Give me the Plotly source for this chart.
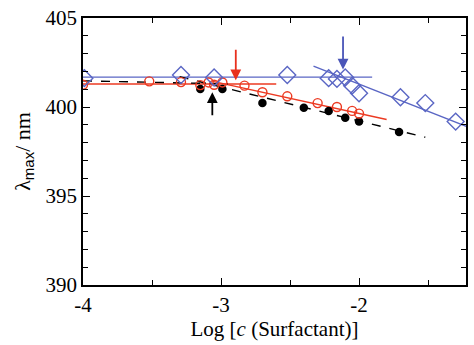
import plotly.graph_objects as go

# Data
blue_x = [-3.99, -3.29, -3.05, -2.52, -2.22, -2.16, -2.10, -2.05, -2.00, -1.70, -1.52, -1.30]
blue_y = [401.62, 401.80, 401.66, 401.80, 401.62, 401.58, 401.66, 401.20, 400.77, 400.55, 400.22, 399.18]
red_x = [-4.00, -3.52, -3.29, -3.15, -3.09, -3.05, -2.99, -2.83, -2.70, -2.52, -2.30, -2.16, -2.05, -2.00]
red_y = [401.25, 401.44, 401.40, 401.23, 401.38, 401.25, 401.38, 401.20, 400.83, 400.60, 400.22, 400.00, 399.78, 399.63]
black_x = [-3.15, -2.99, -2.70, -2.40, -2.22, -2.10, -2.00, -1.71]
black_y = [401.01, 401.01, 400.22, 399.96, 399.78, 399.40, 399.18, 398.59]

# Fit lines (endpoints)
blue_h_x = [-4.0, -1.905]; blue_h_y = [401.68, 401.68]
blue_s_x = [-2.33, -1.22]; blue_s_y = [402.3, 398.9]
red_h_x = [-4.0, -2.60]; red_h_y = [401.29, 401.29]
red_s_x = [-3.06, -1.80]; red_s_y = [401.44, 399.30]
black_h_x = [-4.0, -2.95]; black_h_y = [401.47, 401.30]
black_s_x = [-3.30, -1.52]; black_s_y = [401.70, 398.30]

# Arrows: x, tail y, tip y
arrows = [(-2.893, 403.3, 401.5, "#e8301e"), (-2.116, 404.05, 402.1, "#4a55b8"), (-3.063, 399.45, 400.83, "black")]

BLUE = "#5a66c4"
RED = "#ec3a22"

fig = go.Figure()
fig.add_trace(go.Scatter(x=blue_h_x, y=blue_h_y, mode="lines", line=dict(color=BLUE, width=1.4)))
fig.add_trace(go.Scatter(x=blue_s_x, y=blue_s_y, mode="lines", line=dict(color=BLUE, width=1.4)))
fig.add_trace(go.Scatter(x=red_h_x, y=red_h_y, mode="lines", line=dict(color=RED, width=1.4)))
fig.add_trace(go.Scatter(x=red_s_x, y=red_s_y, mode="lines", line=dict(color=RED, width=1.4)))
fig.add_trace(go.Scatter(x=black_h_x, y=black_h_y, mode="lines", line=dict(color="black", width=1.4, dash="dash")))
fig.add_trace(go.Scatter(x=black_s_x, y=black_s_y, mode="lines", line=dict(color="black", width=1.4, dash="dash")))
fig.add_trace(go.Scatter(x=black_x, y=black_y, mode="markers",
                         marker=dict(symbol="circle", size=8.5, color="black")))
fig.add_trace(go.Scatter(x=red_x, y=red_y, mode="markers",
                         marker=dict(symbol="circle-open", size=9, color=RED, line=dict(width=1.4))))
fig.add_trace(go.Scatter(x=blue_x, y=blue_y, mode="markers",
                         marker=dict(symbol="diamond-open", size=13, color=BLUE, line=dict(width=1.4))))

for x, y0, y1, c in arrows:
    fig.add_annotation(x=x, y=y1, ax=x, ay=y0, xref="x", yref="y", axref="x", ayref="y",
                       showarrow=True, arrowhead=2, arrowsize=1.2, arrowwidth=1.8, arrowcolor=c, text="")

font = dict(family="Liberation Serif, Times New Roman, serif", size=21, color="black")
yfont = dict(family="Liberation Serif, Times New Roman, serif", size=22, color="black")
fig.update_layout(
    width=474, height=345, margin=dict(l=83, r=6, t=13, b=60),
    paper_bgcolor="white", plot_bgcolor="white", showlegend=False, font=font,
    xaxis=dict(range=[-4, -1.225], tickvals=[-4, -3, -2], ticktext=["-4", "-3", "-2"],
               ticks="inside", ticklen=7, tickwidth=1.2, tickcolor="black",
               minor=dict(tickvals=[-3.5, -2.5, -1.5], ticks="inside", ticklen=5, tickwidth=1.2, tickcolor="black"),
               showline=True, linecolor="black", linewidth=1.5, mirror="ticks", showgrid=False, zeroline=False,
               title=dict(text="Log [<i>c</i> (Surfactant)]", font=font, standoff=2)),
    yaxis=dict(range=[390, 405], tickvals=[390, 395, 400, 405],
               ticks="inside", ticklen=7, tickwidth=1.2, tickcolor="black",
               minor=dict(dtick=1, ticks="inside", ticklen=5, tickwidth=1.2, tickcolor="black"),
               showline=True, linecolor="black", linewidth=1.5, mirror="ticks", showgrid=False, zeroline=False,
               title=dict(text="λ<sub><span style='font-family:Liberation Sans, Arial, sans-serif;font-size:15px'>max</span></sub>/ nm",
                          font=yfont, standoff=9)),
)
fig.write_html("out.html")
